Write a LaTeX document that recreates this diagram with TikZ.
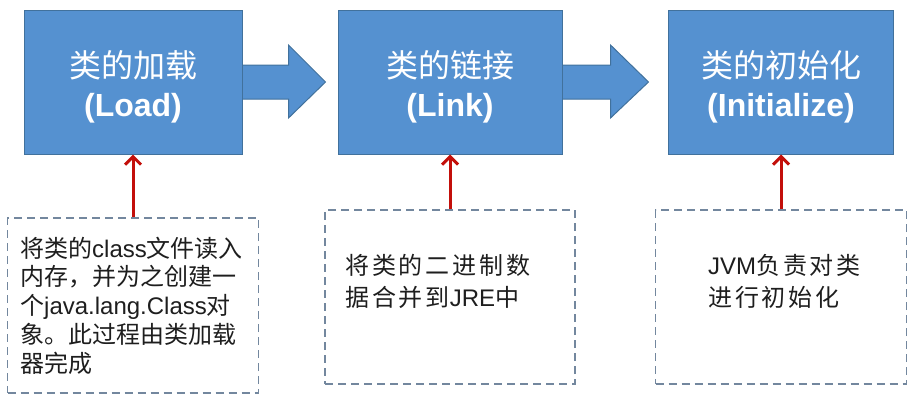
\documentclass[tikz,border=0pt]{standalone}
\usepackage{fontspec}
\setmainfont{Liberation Sans}
\newfontfamily\zhfont{Noto Sans CJK SC}
\newfontfamily\zhwide[LetterSpace=12]{Noto Sans CJK SC}
\usetikzlibrary{arrows.meta,calc,backgrounds}
\definecolor{boxblue}{RGB}{85,145,208}
\definecolor{boxedge}{RGB}{65,113,156}
\definecolor{redarr}{RGB}{195,15,10}
\definecolor{dashgray}{RGB}{115,135,158}
\definecolor{txt}{RGB}{30,30,30}
\begin{document}
\begin{tikzpicture}[x=1pt,y=-1pt,
  stagebox/.style={draw=boxedge, line width=1pt, fill=boxblue, minimum height=144pt, inner sep=0pt},
  titletext/.style={text=white, align=center, inner sep=0pt, font=\fontsize{32}{39}\selectfont\bfseries},
  notebox/.style={draw=dashgray, line width=1.4pt, dash pattern=on 8pt off 5pt, minimum height=174pt, minimum width=251pt, inner sep=0pt},
  notetext/.style={text=txt, align=left, inner sep=0pt, anchor=north west},
  flow/.style={draw=boxedge, line width=1pt, fill=boxblue},
  uparrow/.style={draw=redarr, line width=3pt, -{Straight Barb[length=8pt,width=16pt]}}
]
\useasboundingbox (0,0) rectangle (915,400);

% stage boxes
\node[stagebox, minimum width=218pt] (b1) at (133,82) {};
\node[stagebox, minimum width=224pt] (b2) at (450,82) {};
\node[stagebox, minimum width=225pt] (b3) at (781,82) {};

\node[titletext] (t1) at ($(b1.center)+(0,4.5)$) {{\zhfont\mdseries 类的加载}\\(Load)};
\node[titletext] (t2) at ($(b2.center)+(0,4.5)$) {{\zhfont\mdseries 类的链接}\\(Link)};
\node[titletext] (t3) at ($(b3.center)+(0,4.5)$) {{\zhfont\mdseries 类的初始化}\\(Initialize)};

% block arrows between stages
\begin{scope}[on background layer]
\draw[flow] ($(b1.east)+(-1,-17)$) -- ($(b1.east)+(46,-17)$) -- ($(b1.east)+(46,-37)$)
  -- ($(b1.east)+(83,0)$) -- ($(b1.east)+(46,36)$) -- ($(b1.east)+(46,17)$) -- ($(b1.east)+(-1,17)$);
\draw[flow] ($(b2.east)+(-1,-17)$) -- ($(b2.east)+(48,-17)$) -- ($(b2.east)+(48,-37)$)
  -- ($(b2.east)+(86,0)$) -- ($(b2.east)+(48,36)$) -- ($(b2.east)+(48,17)$) -- ($(b2.east)+(-1,17)$);
\end{scope}

% note boxes
\node[notebox, minimum height=175pt] (d1) at (133,305.5) {};
\node[notebox, minimum width=250pt] (d2) at (450,297) {};
\node[notebox] (d3) at (781,297) {};

\node[notetext, font=\fontsize{24}{28.75}\selectfont] (n1) at (20,236.5)
  {{\zhfont 将类的}class{\zhfont 文件读入}\\{\zhfont 内存，并为之创建一}\\{\zhfont 个}java.lang.Class{\zhfont 对}\\{\zhfont 象。此过程由类加载}\\{\zhfont 器完成}};
\node[notetext, font=\fontsize{24}{32}\selectfont] (n2) at (345,254)
  {{\zhwide 将类的二进制数}\\{\zhwide 据合并到}JRE{\zhwide 中}};
\node[notetext, font=\fontsize{24}{32}\selectfont] (n3) at (708,254)
  {JVM{\zhwide 负责对类}\\{\zhwide 进行初始化}};

% red arrows
\draw[uparrow] (d1.north) -- (b1.south);
\draw[uparrow] (d2.north) -- (b2.south);
\draw[uparrow] (d3.north) -- (b3.south);
\end{tikzpicture}
\end{document}
